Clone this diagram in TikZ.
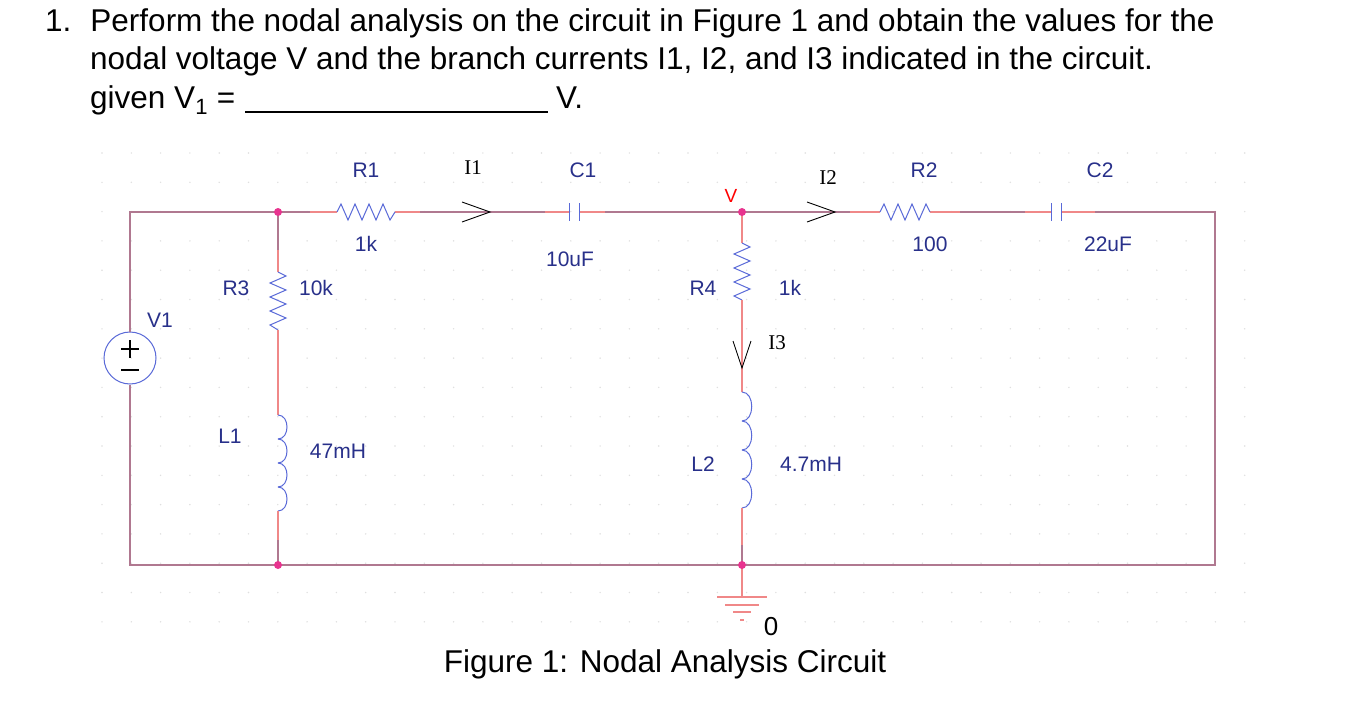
\documentclass[tikz,border=0pt]{standalone}
\usepackage{fontspec}
\setmainfont{Liberation Sans}
\newfontfamily\seriff{Liberation Serif}
\definecolor{wire}{HTML}{B07890}
\definecolor{lead}{HTML}{F08888}
\definecolor{comp}{HTML}{5A6AD8}
\definecolor{lab}{HTML}{28308A}
\definecolor{dotc}{HTML}{E8348F}
\begin{document}
\begin{tikzpicture}[x=1pt,y=-1pt,
  wireS/.style={draw=wire,line width=1.3pt},
  leadS/.style={draw=lead,line width=1.3pt},
  compS/.style={draw=comp,line width=1pt},
  lbl/.style={text=lab,font=\fontsize{21}{21}\selectfont,inner sep=0pt},
  cur/.style={font=\seriff\fontsize{21}{21}\selectfont,inner sep=0pt},
  jdot/.style={circle,fill=dotc,inner sep=0pt,minimum size=8pt},
  txt/.style={font=\fontsize{31.5}{31.5}\selectfont,anchor=base west,inner sep=0pt}]
\useasboundingbox (0,0) rectangle (1357,701);
\fill[white] (0,0) rectangle (1357,701);
% grid dots
\foreach \i in {0,...,39} \foreach \j in {0,...,16}
  \fill[gray!25] (102+\i*29.3,153+\j*29.3) circle (0.8pt);
% text
\node[txt] (t1) at (45,32) {1.\hspace{19pt}Perform the nodal analysis on the circuit in Figure 1 and obtain the values for the};
\node[txt] (t2) at (90,70) {nodal voltage V and the branch currents I1, I2, and I3 indicated in the circuit.};
\node[txt] (t3) at (90,108) {given V\textsubscript{1} =};
\coordinate (ul1) at (245,112); \coordinate (ul2) at (548,112);
\draw[line width=1.8pt] (ul1) -- (ul2);
\node[txt] (t4) at (556,108) {V.};
% key coordinates
\coordinate (TL) at (130,212); \coordinate (TR) at (1215,212);
\coordinate (BL) at (130,565); \coordinate (BR) at (1215,565);
\coordinate (A) at (278,212); \coordinate (B) at (742,212);
\coordinate (Ab) at (278,565); \coordinate (Bb) at (742,565);
% V1 source
\node[circle,draw=comp,line width=1pt,minimum size=52pt,inner sep=0pt] (V1) at (130,358) {};
\draw[line width=2.4pt] (121,349)--(139,349) (130,340)--(130,358) (121,370)--(139,370);
\node[lbl] (V1l) at (160,320) {V1};
% wires
\draw[wireS] (V1.north) -- (TL) -- (A) -- (310,212);
\draw[leadS] (310,212) -- (337,212);
\draw[leadS] (395,212) -- (420,212);
\draw[wireS] (420,212) -- (545,212);
\draw[leadS] (545,212) -- (569,212);
\draw[leadS] (579,212) -- (605,212);
\draw[wireS] (605,212) -- (B) -- (850,212);
\draw[leadS] (850,212) -- (880,212);
\draw[leadS] (930,212) -- (960,212);
\draw[wireS] (960,212) -- (1025,212);
\draw[leadS] (1025,212) -- (1051,212);
\draw[leadS] (1061,212) -- (1095,212);
\draw[wireS] (1095,212) -- (TR) -- (BR) -- (Bb) -- (Ab) -- (BL) -- (V1.south);
% R1
\draw[compS] (337,212) -- (341,204) -- (348,220) -- (355,204) -- (362,220) -- (369,204) -- (376,220) -- (383,204) -- (390,220) -- (395,212);
\node[lbl] (R1l) at (366,170) {R1}; \node[lbl] (R1v) at (366,244) {1k};
% I1
\draw[line width=0.9pt] (462,202) -- (490,212) -- (462,222);
\node[cur] (I1l) at (473,168) {I1};
% C1
\draw[compS] (569,203) -- (569,221) (579,203) -- (579,221);
\node[lbl] (C1l) at (583,170) {C1}; \node[lbl] (C1v) at (570,259) {10uF};
% V label
\node[text=red,font=\fontsize{19}{19}\selectfont,inner sep=0pt] (Vl) at (731,196) {V};
% I2
\draw[line width=0.9pt] (807,202) -- (835,212) -- (807,222);
\node[cur] (I2l) at (828,178) {I2};
% R2
\draw[compS] (880,212) -- (884,204) -- (891,220) -- (898,204) -- (905,220) -- (912,204) -- (919,220) -- (926,204) -- (930,212);
\node[lbl] (R2l) at (924,170) {R2}; \node[lbl] (R2v) at (930,244) {100};
% C2
\draw[compS] (1051,203) -- (1051,221) (1061,203) -- (1061,221);
\node[lbl] (C2l) at (1100,170) {C2}; \node[lbl] (C2v) at (1108,244) {22uF};
% R3 branch
\draw[wireS] (A) -- (278,250);
\draw[leadS] (278,250) -- (278,272);
\draw[compS] (278,272) -- (286,276) -- (270,283) -- (286,290) -- (270,297) -- (286,304) -- (270,311) -- (286,318) -- (270,325) -- (278,330);
\draw[leadS] (278,330) -- (278,415);
\foreach \k in {0,1,2,3}
  \draw[compS] (278,415+\k*24) .. controls (290,415+\k*24) and (290,439+\k*24) .. (278,439+\k*24);
\draw[leadS] (278,511) -- (278,540);
\draw[wireS] (278,540) -- (Ab);
\node[lbl] (R3l) at (236,288) {R3}; \node[lbl] (R3v) at (316,288) {10k};
\node[lbl] (L1l) at (230,436) {L1}; \node[lbl] (L1v) at (338,451) {47mH};
% R4 branch
\draw[leadS] (B) -- (742,243);
\draw[compS] (742,243) -- (750,247) -- (734,254) -- (750,261) -- (734,268) -- (750,275) -- (734,282) -- (750,289) -- (734,296) -- (742,300);
\draw[leadS] (742,300) -- (742,392);
\foreach \k in {0,1,2,3}
  \draw[compS] (742,392+\k*29) .. controls (755,392+\k*29) and (755,421+\k*29) .. (742,421+\k*29);
\draw[leadS] (742,508) -- (742,545);
\draw[wireS] (742,545) -- (Bb);
\draw[line width=0.9pt] (733,341) -- (742,368) -- (751,341);
\node[cur] (I3l) at (777,343) {I3};
\node[lbl] (R4l) at (703,288) {R4}; \node[lbl] (R4v) at (790,288) {1k};
\node[lbl] (L2l) at (703,464) {L2}; \node[lbl] (L2v) at (811,464) {4.7mH};
% ground
\draw[leadS] (Bb) -- (742,597);
\draw[lead,line width=1.3pt] (717,597)--(767,597) (725,605)--(759,605) (733,612)--(751,612) (740,620)--(744,620);
\node[font=\fontsize{26}{26}\selectfont,inner sep=0pt] (G0) at (771,627) {0};
% dots
\node[jdot] (dA) at (A) {}; \node[jdot] (dB) at (B) {};
\node[jdot] (dAb) at (Ab) {}; \node[jdot] (dBb) at (Bb) {};
% caption
\node[font=\fontsize{31.5}{31.5}\selectfont,inner sep=0pt] (cap) at (665,664) {Figure 1: Nodal Analysis Circuit};
\end{tikzpicture}
\end{document}
